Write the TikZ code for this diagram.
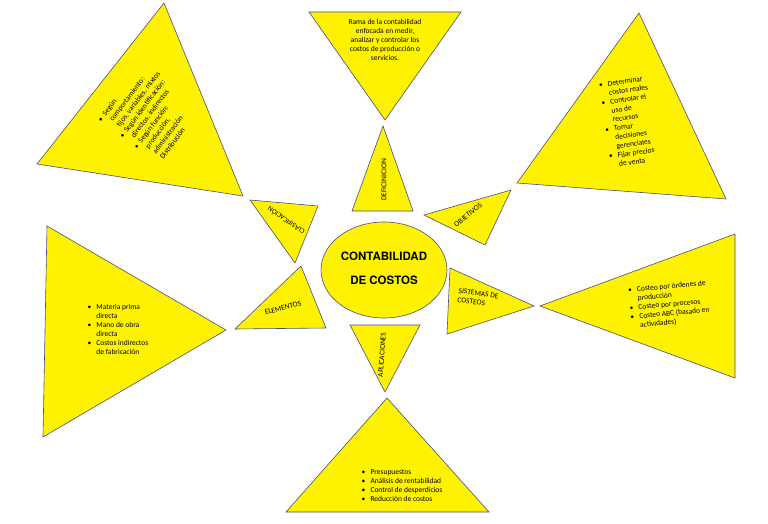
\documentclass[tikz,border=0pt]{standalone}
\usepackage{fontspec}
\usepackage{array}
\setmainfont{Carlito}
\newfontfamily\titlefont{TeX Gyre Heros}
\usetikzlibrary{shapes.geometric}
\newcolumntype{R}[1]{>{\raggedright\arraybackslash}p{#1}}
\begin{document}
\begin{tikzpicture}[x=1pt,y=-1pt,
  tri/.style={fill=yellow,draw=blue!30!black!70,line width=0.6pt},
  lab/.style={font=\fontsize{7.5}{9}\selectfont,align=left,inner sep=0},
  small/.style={font=\fontsize{7.5}{9}\selectfont,inner sep=0}]
\useasboundingbox (0,0) rectangle (768,524);
% shapes
\draw[tri] (164,3) -- (37,164) -- (243,196) -- cycle;
\draw[tri] (250,200) -- (318,206) -- (295,263) -- cycle;
\draw[tri] (383,126) -- (352,211) -- (413,211) -- cycle;
\draw[tri] (309,12) -- (461,12) -- (385,120) -- cycle;
\draw[tri] (424,215) -- (511,190) -- (485,245) -- cycle;
\draw[tri] (639,13) -- (517,183) -- (726,199) -- cycle;
\draw[tri] (450,268) -- (534,306) -- (447,334) -- cycle;
\draw[tri] (540,306) -- (735,234) -- (735,378) -- cycle;
\draw[tri] (350,325) -- (420,325) -- (385,392) -- cycle;
\draw[tri] (387,398) -- (286,512) -- (489,512) -- cycle;
\draw[tri] (301,266) -- (235,329) -- (326,328) -- cycle;
\draw[tri] (47,226) -- (226,330) -- (43,437) -- cycle;
\node[tri,ellipse,minimum width=126pt,minimum height=96pt,inner sep=0] (c) at (384,270) {};
\node[font=\titlefont\bfseries\fontsize{11.5}{24}\selectfont,align=center] (ct) at (384,268) {CONTABILIDAD\\DE COSTOS};
% labels
\node[small,rotate=145,font=\fontsize{7}{8}\selectfont] (cl) at (286,221) {CLASIFICACIÓN};
\node[small,rotate=90] (df) at (384,180) {DEFICINICION};
\node[small,rotate=38] (ob) at (468,215) {OBJETIVOS};
\node[small,align=left,rotate=-8] (si) at (478,298) {SISTEMAS DE\\COSTEOS};
\node[small,rotate=86] (ap) at (382,355) {APLICACIONES};
\node[small,rotate=14] (el) at (283,308) {ELEMENTOS};
\node[lab,align=center] (dt) at (385,40) {Rama de la contabilidad\\enfocada en medir,\\analizar y controlar los\\costos de producción o\\servicios.};
\node[lab,rotate=53] (clt) at (152,112) {\begin{tabular}{@{}l@{\ \ }R{70pt}@{}}
\textbullet & Según comportamiento: fijos, variables, mixtos\\
\textbullet & Según identificación: directos, indirectos\\
\textbullet & Según función: producción, administración Distribución
\end{tabular}};
\node[lab,rotate=8] (obt) at (632,122) {\begin{tabular}{@{}l@{\ \ \ }R{46pt}@{}}
\textbullet & Determinar costos reales\\
\textbullet & Controlar el uso de recursos\\
\textbullet & Tomar decisiones gerenciales\\
\textbullet & Fijar precios de venta
\end{tabular}};
\node[lab,rotate=5] (sit) at (680,304) {\begin{tabular}{@{}l@{\ \ \ }R{92pt}@{}}
\textbullet & Costeo por órdenes de producción\\
\textbullet & Costeo por procesos\\
\textbullet & Costeo ABC (basado en actividades)
\end{tabular}};
\node[lab] (elt) at (118,330) {\begin{tabular}{@{}l@{\ \ \ }R{52pt}@{}}
\textbullet & Materia prima directa\\
\textbullet & Mano de obra directa\\
\textbullet & Costos indirectos de fabricación
\end{tabular}};
\node[lab] (apt) at (402,486) {\begin{tabular}{@{}l@{\ \ \ }l@{}}
\textbullet & Presupuestos\\
\textbullet & Análisis de rentabilidad\\
\textbullet & Control de desperdicios\\
\textbullet & Reducción de costos
\end{tabular}};
\end{tikzpicture}
\end{document}
